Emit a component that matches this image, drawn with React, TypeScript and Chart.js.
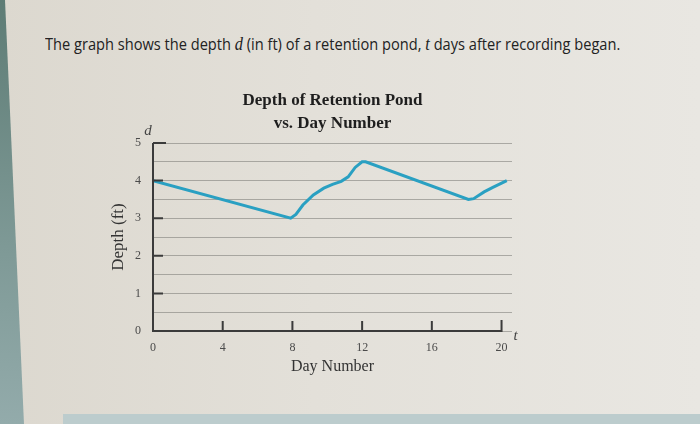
import React, { useEffect, useRef } from 'react';
import { Chart, registerables } from 'chart.js';

Chart.register(...registerables);

// ---- data ----
const days = [0, 7.9, 8.2, 8.6, 9.2, 9.8, 10.3, 10.8, 11.2, 11.6, 12.0, 12.2, 18.1, 18.4, 19.0, 19.5, 20.3];
const depths = [4.0, 3.0, 3.1, 3.35, 3.62, 3.8, 3.9, 3.98, 4.1, 4.35, 4.5, 4.5, 3.5, 3.52, 3.7, 3.82, 4.0];
const xTicks = [0, 4, 8, 12, 16, 20];
const yTicks = [0, 1, 2, 3, 4, 5];
const questionPre = 'The graph shows the depth ';
const questionMid = ' (in ft) of a retention pond, ';
const questionPost = ' days after recording began.';
const titleLines = ['Depth of Retention Pond', 'vs. Day Number'];
const xTitle = 'Day Number';
const yTitle = 'Depth (ft)';
const yVar = 'd';
const xVar = 't';

const axisMarks = {
  id: 'axisMarks',
  afterDatasetsDraw(chart: any) {
    const { ctx, scales } = chart;
    const x = scales.x;
    const y = scales.y;
    const x0 = x.getPixelForValue(0);
    const y0 = y.getPixelForValue(0);
    const yTop = y.getPixelForValue(5);
    const xEnd = x.getPixelForValue(20);
    ctx.save();
    ctx.strokeStyle = '#3b3b3b';
    ctx.lineWidth = 2;
    ctx.beginPath();
    ctx.moveTo(x0, yTop);
    ctx.lineTo(x0, y0);
    ctx.lineTo(xEnd, y0);
    ctx.lineTo(xEnd, y0 - 11);
    yTicks.forEach((v) => {
      const py = y.getPixelForValue(v);
      ctx.moveTo(x0, py);
      ctx.lineTo(x0 + (v === 5 ? 13 : 10), py);
    });
    xTicks.slice(1, -1).forEach((v) => {
      const px = x.getPixelForValue(v);
      ctx.moveTo(px, y0);
      ctx.lineTo(px, y0 - 10);
    });
    ctx.stroke();
    ctx.fillStyle = '#444';
    ctx.font = 'italic 15px "Liberation Serif"';
    ctx.textAlign = 'center';
    ctx.textBaseline = 'alphabetic';
    ctx.fillText(yVar, x0 - 5, yTop - 8);
    ctx.fillText(xVar, xEnd + 14, y0 + 9);
    ctx.restore();
  },
};

export default function App() {
  const canvasRef = useRef<HTMLCanvasElement | null>(null);
  const textRef = useRef<HTMLDivElement | null>(null);

  useEffect(() => {
    document.body.style.margin = '0';
    if (textRef.current) {
      const w = textRef.current.scrollWidth;
      if (w > 0) textRef.current.style.transform = `scaleX(${575 / w})`;
    }
    const canvas = canvasRef.current;
    if (!canvas) return;
    const chart = new Chart(canvas, {
      type: 'line',
      data: {
        datasets: [
          {
            data: days.map((d, i) => ({ x: d, y: depths[i] })),
            borderColor: '#2aa0c2',
            borderWidth: 3,
            pointRadius: 0,
            tension: 0,
            fill: false,
          },
        ],
      },
      options: {
        animation: false,
        responsive: false,
        maintainAspectRatio: false,
        layout: { padding: { left: 100, right: 188, top: 86, bottom: 48 } },
        plugins: {
          legend: { display: false },
          tooltip: { enabled: false },
          title: {
            display: true,
            fullSize: false,
            text: titleLines,
            color: '#1e1e1e',
            font: { family: '"Liberation Serif", serif', size: 17, weight: 'bold', lineHeight: 1.3 },
            padding: { top: 4, bottom: 8.8 },
          },
        },
        scales: {
          x: {
            type: 'linear',
            min: 0,
            max: 20.6,
            afterBuildTicks: (s: any) => {
              s.ticks = xTicks.map((v) => ({ value: v }));
            },
            afterFit: (s: any) => {
              s.height = 45;
            },
            grid: { display: false, drawTicks: false },
            border: { display: false },
            ticks: {
              color: '#4a4a4a',
              font: { family: '"Liberation Serif", serif', size: 12 },
              padding: 10,
              maxRotation: 0,
              autoSkip: false,
            },
            title: {
              display: true,
              text: xTitle,
              color: '#333',
              font: { family: '"Liberation Serif", serif', size: 16 },
              padding: { top: 0, bottom: 0 },
            },
          },
          y: {
            type: 'linear',
            min: 0,
            max: 5,
            afterFit: (s: any) => {
              s.width = 53;
            },
            grid: { color: 'rgba(110,110,105,0.5)', lineWidth: 1, drawTicks: false },
            border: { display: false },
            ticks: {
              stepSize: 0.5,
              color: '#4a4a4a',
              font: { family: '"Liberation Serif", serif', size: 12 },
              padding: 12,
              callback: (v: any) => (Number.isInteger(v) ? String(v) : ''),
            },
            title: {
              display: true,
              text: yTitle,
              color: '#333',
              font: { family: '"Liberation Serif", serif', size: 17 },
              padding: { top: 8, bottom: 0 },
            },
          },
        },
      },
      plugins: [axisMarks],
    } as any);
    return () => chart.destroy();
  }, []);

  return (
    <div
      style={{
        position: 'relative',
        width: 700,
        height: 424,
        overflow: 'hidden',
        background: 'linear-gradient(90deg, #dcd8cf 0%, #e3e0d9 45%, #e9e7e2 100%)',
      }}
    >
      <div
        style={{
          position: 'absolute',
          left: 0,
          top: 0,
          width: 30,
          height: 424,
          background: 'linear-gradient(180deg, #5e7c75 0%, #7f9a97 60%, #93abab 100%)',
          clipPath: 'polygon(0 0, 5px 0, 24px 100%, 0 100%)',
        }}
      />
      <div
        style={{
          position: 'absolute',
          left: 63,
          top: 414,
          width: 637,
          height: 10,
          background: '#bccccd',
        }}
      />
      <div
        ref={textRef}
        style={{
          position: 'absolute',
          left: 45,
          top: 32,
          whiteSpace: 'nowrap',
          fontFamily: '"Open Sans", sans-serif',
          fontSize: 17,
          color: '#222',
          transformOrigin: 'left center',
        }}
      >
        {questionPre}
        <span style={{ fontFamily: '"Liberation Serif", serif', fontStyle: 'italic', fontSize: 19 }}>{yVar}</span>
        {questionMid}
        <span style={{ fontFamily: '"Liberation Serif", serif', fontStyle: 'italic', fontSize: 19 }}>{xVar}</span>
        {questionPost}
      </div>
      <canvas ref={canvasRef} width={700} height={424} style={{ position: 'absolute', left: 0, top: 0 }} />
    </div>
  );
}
